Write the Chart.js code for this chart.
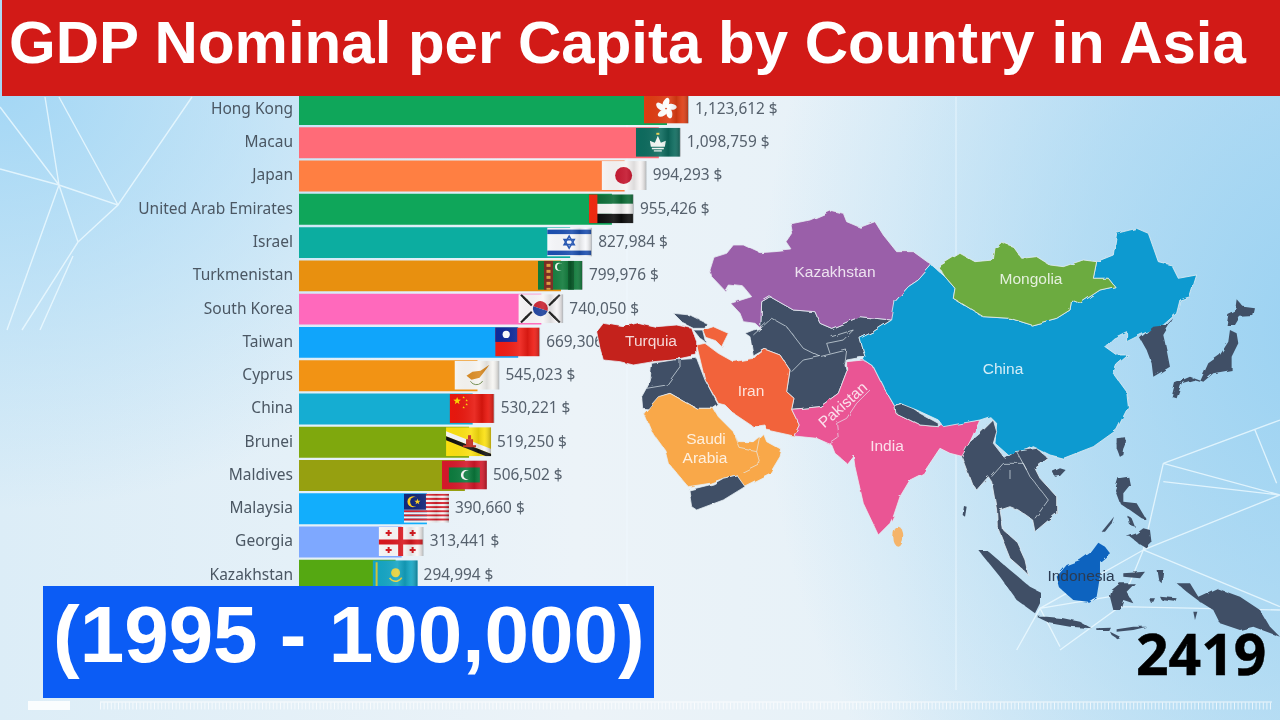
<!DOCTYPE html>
<html>
<head>
<meta charset="utf-8">
<title>GDP Nominal per Capita by Country in Asia</title>
<script src="https://cdn.jsdelivr.net/npm/chart.js@4"></script>
<style>
  html, body { margin: 0; padding: 0; width: 1280px; height: 720px; overflow: hidden; }
  #stage { position: relative; width: 1280px; height: 720px; overflow: hidden;
    background:
      radial-gradient(ellipse 520px 420px at 0px 90px, #a4d7f5 0%, rgba(164,215,245,.55) 45%, rgba(164,215,245,0) 100%),
      radial-gradient(ellipse 560px 720px at 1320px 330px, #9bd2f2 0%, rgba(155,210,242,.6) 45%, rgba(155,210,242,0) 100%),
      linear-gradient(90deg, #dcedf7 0%, #ecf3f8 45%, #e6f1f8 70%, #cfe7f5 100%);
  }
  #stage > * { position: absolute; left: 0; top: 0; }
  #deco { z-index: 1; }
  #bars { z-index: 2; }
  #map { z-index: 3; }
  #ruler { z-index: 1; }
  #header { z-index: 4; left: 2px; top: 0; width: 1278px; height: 96px; background: #d21a17; }
  #header span { position: absolute; left: 7px; top: 8px; font: bold 60px "Liberation Sans", Arial, sans-serif;
    color: #fff; white-space: nowrap; }
  #range { z-index: 4; left: 43px; top: 586px; width: 611px; height: 112px; background: #0b5cf5; }
  #range span { position: absolute; left: 10px; top: 3px; font: bold 80px "Liberation Sans", Arial, sans-serif;
    color: #fff; white-space: nowrap; }
  #year { z-index: 5; left: 1136px; top: 614px; font: bold 57px "Noto Sans", sans-serif; color: #000; line-height: 78px;
    -webkit-text-stroke: .5px #000; }
  svg text { font-family: "Liberation Sans", Arial, sans-serif; font-size: 15.5px; text-anchor: middle; fill: rgba(255,255,255,.82); }
</style>
</head>
<body>
<div id="stage">
  <!-- faint network of lines behind everything -->
  <svg id="deco" width="1280" height="720" fill="none" stroke="#eefaff" stroke-opacity=".8" stroke-width="1.4">
    <path d="M0 107 L59 185 L45 97 M59 97 L118 205 L192 97 M0 169 L59 185 L118 205 L78 242 L59 185 M59 185 L7 330 M78 242 L22 330 M73 256 L40 330"/>
    <path d="M627 97 V680 M956 97 V690" stroke-opacity=".55"/>
    <g transform="translate(960,420) scale(.3333)" stroke-width="4">
      <path d="M610 130 L960 0 M885 30 L950 190 M610 130 L960 225 M610 185 L960 225 M610 130 L550 390 L960 225 M550 390 L960 560 M550 390 L240 565 L170 690 M450 530 L240 565 M550 390 L480 560 L300 690 M240 565 L300 680 M480 560 L960 570"/>
    </g>
  </svg>
  <svg id="ruler" width="1280" height="720">
    <rect x="28" y="701" width="42" height="9" fill="#fff" fill-opacity=".85"/>
    <path d="M100 706 H1272" stroke="#fff" stroke-opacity=".7" stroke-width="7" stroke-dasharray="1 2.6"/>
    <path d="M100 702 H1272" stroke="#fff" stroke-opacity=".8" stroke-width="1"/>
  </svg>

  <canvas id="bars" width="1280" height="720"></canvas>

  <!-- Map of the continent: outlines only, sits above the bars -->
  <svg id="map" width="1280" height="720">
    <defs>
      <filter id="rough" x="-5%" y="-5%" width="110%" height="110%">
        <feTurbulence type="fractalNoise" baseFrequency=".09" numOctaves="2" seed="4"/>
        <feDisplacementMap in="SourceGraphic" scale="3.5"/>
      </filter>
    </defs>
    <g filter="url(#rough)" stroke="#e6eef3" stroke-width="2.4" stroke-linejoin="round">
      <!-- west and south -->
      <g transform="translate(590,310) scale(.3333)">
        <polygon fill="#3f4f66" points="465,70 490,60 512,55 515,-25 540,-40 610,0 675,5 690,40 725,55 810,20 905,30 850,65 810,85 825,140 770,150 765,165 770,185 745,250 690,290 640,295 605,298 612,265 590,245 600,180 570,135 525,118 490,138 480,80"/>
        <polygon fill="#f2643a" points="320,105 345,100 385,130 430,155 490,145 525,118 570,135 600,180 590,245 612,265 605,298 628,345 612,378 530,360 525,345 490,350 430,310 405,285 385,280 345,210"/>
        <polygon fill="#f2643a" points="340,60 370,50 415,70 395,110 380,95 350,85"/>
        <polygon fill="#3f4f66" points="250,10 300,15 350,40 345,55 310,55 280,40"/>
        <polygon fill="#3f4f66" points="310,60 340,60 350,100 330,85"/>
        <polygon fill="#c4201f" points="20,65 40,40 70,45 100,50 145,38 200,50 260,45 305,55 320,95 320,135 250,150 190,155 130,165 90,155 40,150 30,115"/>
        <polygon fill="#3f4f66" points="185,160 250,150 320,145 345,210 385,285 370,295 320,295 240,250 210,260 185,298 158,295 155,260 180,215"/>
        <polygon fill="#f9a84a" points="162,310 205,260 240,250 320,295 370,295 385,320 430,365 445,395 490,395 520,370 530,395 575,420 570,440 540,490 460,530 440,495 400,505 360,520 295,530 235,460 225,420 185,365"/>
        <polygon fill="#3f4f66" points="297,540 370,522 400,505 440,495 465,530 400,570 320,600 305,590"/>
        <polygon fill="#ea5494" points="612,378 628,345 605,298 640,295 690,290 745,250 770,185 770,155 820,150 850,170 880,230 915,290 918,310 990,345 1045,350 1065,345 1170,330 1120,440 1080,430 1050,415 1000,490 960,510 930,560 910,620 900,640 865,675 820,580 795,470 790,435 770,460 735,430 725,405 680,385"/>
        <polygon fill="#3f4f66" points="915,290 950,280 990,310 1045,340 1045,350 990,345 918,310"/>
        <ellipse cx="925" cy="680" rx="15" ry="30" fill="#f5b46a" stroke="none"/>
        <g fill="none" stroke-width="2">
          <polyline points="490,75 545,25 590,50 640,115 690,140 640,150 605,185"/>
          <polyline points="690,140 770,120 765,160"/>
          <polyline points="725,80 790,60 760,90 710,100 720,130"/>
          <polyline points="185,200 170,235 230,225 270,170 270,150"/>
          <polyline points="840,240 800,280 770,325 740,340 745,385 715,405"/>
          <polyline points="430,365 450,415 500,425 510,375"/>
          <polyline points="500,425 510,460 450,490"/>
        </g>
      </g>
      <!-- Kazakhstan -->
      <g transform="translate(700,200) scale(.3333)">
        <polygon fill="#9a5fa9" points="30,210 42,172 80,160 100,135 130,135 180,158 225,155 275,150 258,125 275,100 270,72 330,60 395,32 430,40 440,65 480,82 525,65 550,105 590,155 640,155 695,195 655,240 625,260 585,305 590,345 575,360 480,350 395,385 360,370 345,335 280,330 210,290 185,305 182,385 165,370 130,365 120,340 92,310 155,290 130,260 85,255 75,272 35,230"/>
      </g>
      <!-- China, Mongolia, Korea, Japan -->
      <g transform="translate(900,210) scale(.3333)">
        <polygon fill="#0e9ad0" points="95,165 135,200 165,235 160,265 250,320 330,325 395,345 470,325 510,300 515,270 540,280 600,240 645,230 625,205 580,205 590,155 640,135 650,70 710,55 745,70 775,155 815,165 835,205 890,195 870,260 840,270 830,310 790,345 720,375 680,395 680,365 640,385 615,410 650,435 685,435 650,465 640,490 680,545 685,590 650,660 580,710 490,745 450,735 400,710 350,735 330,740 285,700 290,640 270,620 240,630 130,650 115,630 50,600 0,580 -15,590 -50,530 -80,470 -110,450 -105,440 -120,385 -80,365 -25,330 -15,275 25,230 55,210"/>
        <polygon fill="#6cab40" points="115,170 180,130 225,155 280,150 285,115 305,97 340,110 365,145 410,140 450,165 490,170 550,150 590,155 580,205 625,205 645,230 600,240 540,280 515,270 510,300 470,325 395,345 330,325 250,320 160,265 165,235 135,200"/>
        <g stroke="none" fill="#3f4f66">
          <polygon points="720,385 760,350 800,345 820,325 790,375 800,420 810,470 760,500 755,460 740,420"/>
          <polygon points="1010,268 1030,290 1065,295 1060,318 1020,320 1005,345 980,345 985,315 1005,305"/>
          <polygon points="990,360 1010,370 1015,400 995,440 995,480 940,490 910,515 870,500 825,520 815,560 830,565 845,520 880,510 900,515 925,460 960,435 985,395"/>
          <polygon points="650,700 665,683 678,690 670,735 660,740"/>
        </g>
      </g>
      <!-- south-east Asia and the islands -->
      <g transform="translate(960,420) scale(.3333)">
        <polygon fill="#3f4f66" points="100,0 110,35 100,70 135,115 165,95 230,85 265,115 225,145 240,175 290,230 290,280 225,335 218,300 175,270 150,260 120,270 130,330 170,365 195,420 205,465 190,450 150,415 130,365 112,320 110,270 95,185 85,170 50,210 35,190 5,110 30,65 60,40"/>
        <g fill="none" stroke-width="2">
          <polyline points="95,170 130,130 190,130 210,170 250,220 265,240 225,295"/>
          <polyline points="170,95 200,150"/>
          <polyline points="150,150 150,180"/>
        </g>
        <g stroke="none" fill="#3f4f66">
          <polygon points="278,155 300,145 317,150 300,168 285,170"/>
          <polygon points="55,390 80,390 150,450 210,500 240,515 240,550 225,580 170,540 120,470"/>
          <polygon points="230,590 260,590 310,595 360,605 395,625 330,620 270,610"/>
          <polygon points="405,622 450,620 445,630 410,630"/>
          <polygon points="470,628 520,620 560,620 520,630 470,635"/>
          <polygon points="450,635 480,650 470,655 455,645"/>
          <polygon points="490,460 555,455 540,475 490,470"/>
          <polygon points="455,510 480,490 525,490 500,515 520,550 490,540 480,570 460,570 450,530"/>
          <polygon points="650,490 690,490 715,530 770,505 840,530 900,570 930,620 960,650 880,620 840,630 780,610 760,570 720,545 680,515"/>
          <polygon points="475,175 505,170 510,195 490,220 490,245 530,250 560,300 545,295 510,270 480,250 465,210"/>
          <polygon points="500,350 530,340 550,325 570,330 575,370 560,385 535,370 510,350"/>
          <polygon points="425,335 462,290 455,310 435,335"/>
          <polygon points="505,290 515,295 525,320 510,315"/>
          <polygon points="12,258 20,260 15,290 8,285"/>
          <polygon points="590,450 610,450 605,490 595,480"/>
          <polygon points="565,535 585,535 580,545 570,545"/>
          <polygon points="600,530 650,535 645,545 605,540"/>
          <polygon points="470,55 495,52 497,80 480,110 470,85"/>
          <polygon points="700,575 712,575 705,600"/>
        </g>
        <polygon fill="#0b63bf" stroke="none" points="415,368 435,380 450,400 420,425 420,470 410,530 385,545 340,540 300,505 290,470 320,435 360,420 395,395"/>
      </g>
    </g>
    <text x="835" y="277">Kazakhstan</text>
    <text x="1031" y="284">Mongolia</text>
    <text x="1003" y="374">China</text>
    <text x="651" y="346">Turquia</text>
    <text x="751" y="396">Iran</text>
    <text x="843" y="410" transform="rotate(-42 843 405)">Pakistan</text>
    <text x="887" y="451">India</text>
    <text x="706" y="444">Saudi</text>
    <text x="705" y="463">Arabia</text>
    <text x="1081" y="581" style="fill:#2b3b52">Indonesia</text>
  </svg>

  <div id="header"><span>GDP Nominal per Capita by Country in Asia</span></div>
  <div id="range"><span>(1995 - 100,000)</span></div>
  <div id="year">2419</div>
</div>

<script>
// Year shown: 2419, ranked highest first.
const countries = ["Hong Kong", "Macau", "Japan", "United Arab Emirates", "Israel", "Turkmenistan",
  "South Korea", "Taiwan", "Cyprus", "China", "Brunei", "Maldives", "Malaysia", "Georgia", "Kazakhstan"];
const gdpPerCapita = [1123612, 1098759, 994293, 955426, 827984, 799976,
  740050, 669306, 545023, 530221, 519250, 506502, 390660, 313441, 294994];
const barColors = ["#0fa65a", "#ff6b78", "#ff7f42", "#0fa65a", "#0cada0", "#e8900f",
  "#ff69bc", "#10a5fb", "#f29314", "#15add2", "#7fa80d", "#96a010", "#12aefc", "#7ea8ff", "#55a812"];

// Flags are painted in a 44 x 29 box with its origin at the top-left corner.
function star(c, x, y, r, col) {
  c.fillStyle = col; c.beginPath();
  for (let i = 0; i < 10; i++) {
    const a = -Math.PI / 2 + i * Math.PI / 5, q = i % 2 ? r * 0.42 : r;
    c.lineTo(x + Math.cos(a) * q, y + Math.sin(a) * q);
  }
  c.closePath(); c.fill();
}
function crescent(c, x, y, r, inner, dx, col, bg) {
  c.fillStyle = col; c.beginPath(); c.arc(x, y, r, 0, 7); c.fill();
  c.fillStyle = bg; c.beginPath(); c.arc(x + dx, y, inner, 0, 7); c.fill();
}
function rect(c, col, x, y, w, h) { c.fillStyle = col; c.fillRect(x, y, w, h); }

const flagPainters = {
  "Hong Kong": c => {
    rect(c, "#de3c12", 0, 0, 44, 29);
    c.fillStyle = "#fff";
    for (let i = 0; i < 5; i++) {
      c.save(); c.translate(22, 14); c.rotate(i * 2 * Math.PI / 5);
      c.beginPath(); c.ellipse(0, -5.5, 3, 5.5, 0.4, 0, 7); c.fill(); c.restore();
    }
  },
  "Macau": c => {
    rect(c, "#0d6b5e", 0, 0, 44, 29);
    c.fillStyle = "#f2f7f4";
    c.beginPath(); c.moveTo(22, 8); c.lineTo(25, 15); c.lineTo(30, 13); c.lineTo(29, 19);
    c.lineTo(15, 19); c.lineTo(14, 13); c.lineTo(19, 15); c.closePath(); c.fill();
    rect(c, "#f2f7f4", 16, 20, 12, 1.5); rect(c, "#f2f7f4", 18, 22.5, 8, 1.2);
    rect(c, "#e8d24a", 20.5, 5, 3, 2);
  },
  "Japan": c => {
    rect(c, "#f6f4f4", 0, 0, 44, 29);
    c.fillStyle = "#c4142c"; c.beginPath(); c.arc(22, 14.5, 8.5, 0, 7); c.fill();
  },
  "United Arab Emirates": c => {
    rect(c, "#0b6b35", 0, 0, 44, 9.5); rect(c, "#f5f5f5", 0, 9.5, 44, 10); rect(c, "#0c0c0c", 0, 19.5, 44, 9.5);
    rect(c, "#f02a10", 0, 0, 8.5, 29);
  },
  "Israel": c => {
    rect(c, "#f7f8fb", 0, 0, 44, 29);
    rect(c, "#1c4fb0", 0, 2, 44, 4.5); rect(c, "#1c4fb0", 0, 23, 44, 4.5);
    c.strokeStyle = "#1c4fb0"; c.lineWidth = 1.6;
    c.beginPath(); c.moveTo(22, 8.5); c.lineTo(27, 17); c.lineTo(17, 17); c.closePath(); c.stroke();
    c.beginPath(); c.moveTo(22, 20.5); c.lineTo(27, 12); c.lineTo(17, 12); c.closePath(); c.stroke();
  },
  "Turkmenistan": c => {
    rect(c, "#0f7a3a", 0, 0, 44, 29);
    rect(c, "#7d2b22", 6, 0, 9, 29);
    for (let y = 3; y < 28; y += 6) rect(c, "#e0a040", 8.5, y, 4, 3);
    crescent(c, 21, 6, 4, 3.6, 1.6, "#f2f7f0", "#0f7a3a");
    rect(c, "#0a5a2a", 30, 0, 6, 29);
  },
  "South Korea": c => {
    rect(c, "#f6f4f6", 0, 0, 44, 29);
    c.fillStyle = "#c8202f"; c.beginPath(); c.arc(22, 14.5, 7.5, Math.PI * 1.1, Math.PI * 0.1); c.fill();
    c.fillStyle = "#1c3f9c"; c.beginPath(); c.arc(22, 14.5, 7.5, Math.PI * 0.1, Math.PI * 1.1); c.fill();
    c.strokeStyle = "#222"; c.lineWidth = 2;
    [[8, 6, 1], [36, 6, -1], [8, 23, -1], [36, 23, 1]].forEach(([x, y, s]) => {
      for (let k = -1; k <= 1; k++) {
        c.beginPath(); c.moveTo(x + k * 2.4 - 3 * s, y - 3 + k * 2.4 * s);
        c.lineTo(x + k * 2.4 + 3 * s, y + 3 + k * 2.4 * s); c.stroke();
      }
    });
  },
  "Taiwan": c => {
    rect(c, "#ee1c14", 0, 0, 44, 29);
    rect(c, "#0f2a9a", 0, 0, 22, 14.5);
    c.fillStyle = "#fff"; c.beginPath(); c.arc(11, 7, 3.6, 0, 7); c.fill();
  },
  "Cyprus": c => {
    rect(c, "#f6f5f2", 0, 0, 44, 29);
    c.fillStyle = "#d98a22";
    c.beginPath(); c.moveTo(12, 15); c.lineTo(18, 11); c.lineTo(26, 10); c.lineTo(35, 4); c.lineTo(29, 12);
    c.lineTo(25, 17); c.lineTo(17, 19); c.closePath(); c.fill();
    c.strokeStyle = "#6f8a4a"; c.lineWidth = 1; c.beginPath(); c.arc(22, 17, 7, 0.5, 2.6); c.stroke();
  },
  "China": c => {
    rect(c, "#e8170e", 0, 0, 44, 29);
    star(c, 7.5, 7, 4, "#ffd800");
    [[14, 3.5], [17, 6.5], [17, 10.5], [14, 13.5]].forEach(([x, y]) => star(c, x, y, 1.4, "#ffd800"));
  },
  "Brunei": c => {
    rect(c, "#fbe010", 0, 0, 46, 29);
    c.fillStyle = "#f5f5f5"; c.beginPath(); c.moveTo(0, 4); c.lineTo(46, 22); c.lineTo(46, 27); c.lineTo(0, 9); c.closePath(); c.fill();
    c.fillStyle = "#111"; c.beginPath(); c.moveTo(0, 9); c.lineTo(46, 27); c.lineTo(46, 29); c.lineTo(40, 29); c.lineTo(0, 13); c.closePath(); c.fill();
    rect(c, "#c0281c", 20, 12, 7, 7); rect(c, "#c0281c", 17, 18, 13, 2); rect(c, "#c0281c", 22, 8, 3, 4);
  },
  "Maldives": c => {
    rect(c, "#d5182a", 0, 0, 45, 29);
    rect(c, "#0a7a3c", 7, 7, 31, 15);
    crescent(c, 24, 14.5, 5, 4.4, 1.9, "#f5f5f5", "#0a7a3c");
  },
  "Malaysia": c => {
    for (let i = 0; i < 14; i++) rect(c, i % 2 ? "#f6f3f3" : "#d81e2a", 0, i * 29 / 14, 46, 29 / 14);
    rect(c, "#12277a", 0, 0, 22, 16);
    crescent(c, 9, 8, 5.5, 4.8, 2, "#ffd020", "#12277a");
    star(c, 13.5, 8, 3.2, "#ffd020");
  },
  "Georgia": c => {
    rect(c, "#f8f6f6", 0, 0, 44, 29);
    rect(c, "#d8171e", 0, 12.5, 44, 5); rect(c, "#d8171e", 19.5, 0, 5, 29);
    [[10, 6], [34, 6], [10, 23], [34, 23]].forEach(([x, y]) => {
      rect(c, "#d8171e", x - 1, y - 3, 2, 6); rect(c, "#d8171e", x - 3, y - 1, 6, 2);
    });
  },
  "Kazakhstan": c => {
    rect(c, "#14a5c4", 0, 0, 46, 29);
    c.fillStyle = "#e6d23c"; c.beginPath(); c.arc(23, 12.5, 4.5, 0, 7); c.fill();
    c.strokeStyle = "#e6d23c"; c.lineWidth = 1.6; c.beginPath(); c.arc(23, 14, 7, 0.5, 2.6); c.stroke();
    rect(c, "#d2c63c", 3, 2, 2, 25);
  }
};

// Soft folds across a flag, darker at the right-hand edge.
function drawFolds(c, w, h) {
  const g = c.createLinearGradient(0, 0, w, 0);
  g.addColorStop(0, "rgba(0,0,0,0)");
  g.addColorStop(0.55, "rgba(255,255,255,.10)");
  g.addColorStop(0.72, "rgba(0,0,0,.10)");
  g.addColorStop(0.85, "rgba(255,255,255,.08)");
  g.addColorStop(1, "rgba(0,0,0,.28)");
  c.fillStyle = g; c.fillRect(0, 0, w, h);
}

const flagAndValue = {
  id: "flagAndValue",
  afterDatasetsDraw(chart) {
    const c = chart.ctx, meta = chart.getDatasetMeta(0);
    const fmt = new Intl.NumberFormat("en-US");
    meta.data.forEach((bar, i) => {
      const name = countries[i];
      c.save();
      c.translate(bar.x - 23, bar.y - 15);
      c.save();
      c.beginPath(); c.rect(0, 0, 45, 29); c.clip();
      flagPainters[name](c);
      drawFolds(c, 45, 29);
      c.restore();
      c.restore();
      c.save();
      c.font = '15.4px "Noto Sans", sans-serif';
      c.fillStyle = "#56616d";
      c.textAlign = "left";
      c.textBaseline = "middle";
      c.fillText(fmt.format(gdpPerCapita[i]) + " $", bar.x + 28, bar.y);
      c.restore();
    });
  }
};

new Chart(document.getElementById("bars"), {
  type: "bar",
  data: {
    labels: countries,
    datasets: [{ data: gdpPerCapita, backgroundColor: barColors, borderWidth: 0,
      barPercentage: 0.93, categoryPercentage: 1 }]
  },
  options: {
    indexAxis: "y",
    responsive: false,
    animation: false,
    devicePixelRatio: 1,
    layout: { padding: { top: 92.9, bottom: 128.1, left: 0, right: 588 } },
    plugins: { legend: { display: false }, title: { display: false }, tooltip: { enabled: false } },
    scales: {
      x: { display: false, min: 0, max: 1200000 },
      y: {
        afterFit(scale) { scale.width = 299; },
        grid: { display: false, drawTicks: false, tickLength: 0 },
        border: { display: false },
        ticks: { color: "#4b5763", padding: 6, autoSkip: false, font: { family: '"Noto Sans", sans-serif', size: 15.5 } }
      }
    }
  },
  plugins: [flagAndValue]
});
</script>
</body>
</html>
